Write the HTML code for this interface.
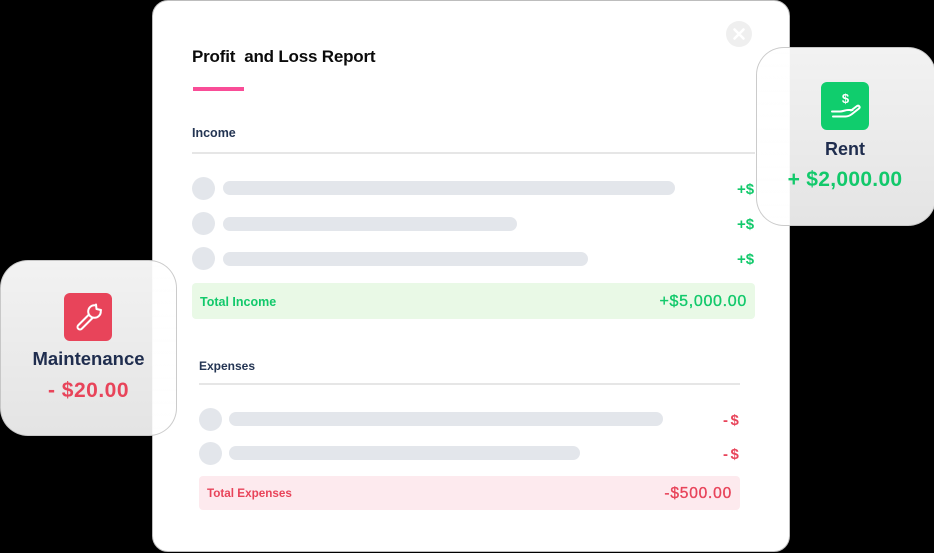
<!DOCTYPE html>
<html>
<head>
<meta charset="utf-8">
<style>
  html,body{margin:0;padding:0;}
  body{width:934px;height:553px;background:#000;position:relative;overflow:hidden;font-family:"Liberation Sans",sans-serif;}
  .abs{position:absolute;}
  .card{position:absolute;left:152px;top:0;width:636px;height:550px;background:#fff;border:1px solid #bdbdbd;border-radius:16px;}
  .t{position:absolute;line-height:1;white-space:nowrap;}
  .circ{position:absolute;width:23px;height:23px;border-radius:50%;background:#e3e6eb;}
  .bar{position:absolute;height:14px;border-radius:7px;background:#e3e6eb;}
  .green{color:#12c96b;}
  .red{color:#e8445a;}
  .float{position:absolute;border-radius:28px;background:linear-gradient(180deg,rgba(255,255,255,0.95),rgba(255,255,255,0.895));border:1px solid rgba(190,190,190,0.8);box-sizing:border-box;}
</style>
</head>
<body>

<div class="card"></div>

<!-- Title -->
<div class="t" style="left:192px;top:48px;font-size:17px;font-weight:bold;color:#0b0b0b;letter-spacing:-0.2px;">Profit&nbsp; and Loss Report</div>
<div class="abs" style="left:193px;top:87px;width:51px;height:4px;background:#f94d97;"></div>

<!-- close button -->
<svg class="abs" style="left:726px;top:21px;" width="26" height="26" viewBox="0 0 26 26">
  <circle cx="13" cy="13" r="13" fill="#efefef"/>
  <path d="M8.5 8.5 L17.5 17.5 M17.5 8.5 L8.5 17.5" stroke="#fff" stroke-width="2.6" stroke-linecap="round"/>
</svg>

<!-- Income -->
<div class="t" style="left:192px;top:126.5px;font-size:12.5px;font-weight:bold;color:#243553;">Income</div>
<div class="abs" style="left:192px;top:152px;width:563px;height:2px;background:#e6e6e6;"></div>

<div class="circ" style="left:192px;top:177px;"></div>
<div class="bar" style="left:223px;top:181px;width:452px;"></div>
<div class="t green" style="left:737px;top:181.5px;font-size:15px;font-weight:bold;">+$</div>

<div class="circ" style="left:192px;top:212px;"></div>
<div class="bar" style="left:223px;top:217px;width:294px;"></div>
<div class="t green" style="left:737px;top:216.5px;font-size:15px;font-weight:bold;">+$</div>

<div class="circ" style="left:192px;top:247px;"></div>
<div class="bar" style="left:223px;top:252px;width:365px;"></div>
<div class="t green" style="left:737px;top:251.5px;font-size:15px;font-weight:bold;">+$</div>

<div class="abs" style="left:192px;top:283px;width:563px;height:36px;background:#e9f9e6;border-radius:4px;"></div>
<div class="t green" style="left:200px;top:295.5px;font-size:12.5px;font-weight:bold;">Total Income</div>
<div class="t green" style="right:187px;top:293.5px;font-size:16px;letter-spacing:0.7px;-webkit-text-stroke:0.35px #12c96b;">+$5,000.00</div>

<!-- Expenses -->
<div class="t" style="left:199px;top:360px;font-size:12px;font-weight:bold;color:#243553;">Expenses</div>
<div class="abs" style="left:199px;top:383px;width:541px;height:2px;background:#e6e6e6;"></div>

<div class="circ" style="left:199px;top:408px;"></div>
<div class="bar" style="left:229px;top:412px;width:434px;"></div>
<div class="t red" style="left:723px;top:412.5px;font-size:15px;font-weight:bold;letter-spacing:2.5px;">-$</div>

<div class="circ" style="left:199px;top:442px;"></div>
<div class="bar" style="left:229px;top:446px;width:351px;"></div>
<div class="t red" style="left:723px;top:446.5px;font-size:15px;font-weight:bold;letter-spacing:2.5px;">-$</div>

<div class="abs" style="left:199px;top:476px;width:541px;height:34px;background:#fdeaee;border-radius:4px;"></div>
<div class="t red" style="left:207px;top:488px;font-size:11.7px;font-weight:bold;">Total Expenses</div>
<div class="t red" style="right:202px;top:486px;font-size:15.5px;letter-spacing:0.8px;-webkit-text-stroke:0.35px #e8445a;">-$500.00</div>

<!-- Rent card -->
<div class="float" style="left:756px;top:47px;width:180px;height:179px;"></div>
<svg class="abs" style="left:821px;top:82px;" width="48" height="48" viewBox="0 0 48 48">
  <rect x="0" y="0" width="48" height="48" rx="6" fill="#10cd6d"/>
  <text x="24.5" y="21" text-anchor="middle" font-family="Liberation Sans, sans-serif" font-weight="bold" font-size="13" fill="#fff">$</text>
  <path d="M11 29.5 H19 C22 29.5 24 28 27 28 H31.5" stroke="#fff" stroke-width="2" fill="none" stroke-linecap="round" stroke-linejoin="round"/>
  <path d="M12 34.5 H24.5 C27 34.5 29 33.5 31 32 L38 26.5 C39.5 25 38 23 36 24 L30 28.5" stroke="#fff" stroke-width="2" fill="none" stroke-linecap="round" stroke-linejoin="round"/>
</svg>
<div class="t" style="left:756px;width:178px;text-align:center;top:139.5px;font-size:18px;font-weight:bold;color:#1f2d4e;">Rent</div>
<div class="t green" style="left:756px;width:178px;text-align:center;top:168.5px;font-size:21px;font-weight:bold;letter-spacing:0.3px;">+ $2,000.00</div>

<!-- Maintenance card -->
<div class="float" style="left:0px;top:260px;width:177px;height:176px;"></div>
<svg class="abs" style="left:64px;top:293px;" width="48" height="48" viewBox="0 0 48 48">
  <rect x="0" y="0" width="48" height="48" rx="6" fill="#e8445a"/>
  <path d="M16 34 L27 23" stroke="#fff" stroke-width="7" stroke-linecap="round"/>
  <path d="M16 34 L27 23" stroke="#e8445a" stroke-width="3" stroke-linecap="round"/>
  <circle cx="30.5" cy="18.5" r="6.3" stroke="#fff" stroke-width="2" fill="#e8445a"/>
  <path d="M31 12 L33 16.5 L37.5 17.5 L40 12 L35 9 Z" fill="#e8445a"/>
  <path d="M32 11.5 L32.5 16 L37 17" stroke="#fff" stroke-width="2" fill="none" stroke-linecap="round" stroke-linejoin="round"/>
</svg>
<div class="t" style="left:0px;width:177px;text-align:center;top:349.6px;font-size:18.5px;font-weight:bold;color:#1f2d4e;">Maintenance</div>
<div class="t red" style="left:0px;width:177px;text-align:center;top:379.6px;font-size:21px;font-weight:bold;letter-spacing:0.5px;">- $20.00</div>

</body>
</html>
